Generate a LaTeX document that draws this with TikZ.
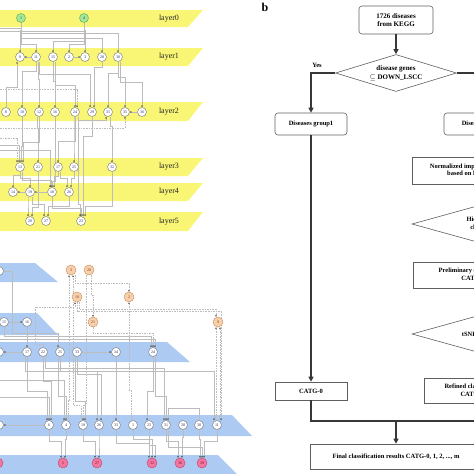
\documentclass[tikz,border=0pt]{standalone}
\usepackage{fontspec}
\setmainfont{Liberation Serif}
\usetikzlibrary{arrows.meta,shapes.geometric}
\pgfdeclarelayer{front}
\pgfsetlayers{main,front}
\definecolor{ylwband}{RGB}{249,246,118}
\definecolor{bluband}{RGB}{172,202,242}
\definecolor{edgegray}{RGB}{188,188,188}
\definecolor{tipgray}{RGB}{70,70,70}
\definecolor{ndgray}{RGB}{125,125,125}
\definecolor{ndtext}{RGB}{40,40,110}
\definecolor{flowgray}{RGB}{55,55,55}
\definecolor{boxgray}{RGB}{95,95,95}
\tikzset{
  nd/.style={circle, draw=ndgray, line width=0.45pt, fill=white, minimum size=9pt,
    inner sep=0pt, text=ndtext, font=\fontsize{4}{4}\selectfont},
  gnd/.style={nd, fill={rgb,255:red,165;green,232;blue,150}, draw={rgb,255:red,90;green,170;blue,90}},
  ond/.style={nd, minimum size=10pt, fill={rgb,255:red,246;green,208;blue,172},
    draw={rgb,255:red,205;green,145;blue,95}, text={rgb,255:red,120;green,60;blue,20}},
  pnd/.style={nd, minimum size=10pt, fill={rgb,255:red,240;green,120;blue,160},
    draw={rgb,255:red,200;green,70;blue,110}, text={rgb,255:red,140;green,0;blue,40}},
  laylab/.style={font=\fontsize{8}{8}\selectfont, text=black!85},
  wire/.style={draw=edgegray, line width=0.5pt},
  edge/.style={wire, -{Stealth[length=1.9pt,width=1.8pt,color=tipgray]}},
  dedge/.style={edge, dash pattern=on 1.6pt off 1pt},
  fbox/.style={draw=boxgray, line width=0.6pt, align=center, inner sep=1pt,
    font=\fontsize{6.5}{7.8}\selectfont\bfseries},
  rbox/.style={fbox, rounded corners=3pt},
  dec/.style={fbox, diamond, aspect=3, inner sep=0pt},
  fline/.style={draw=flowgray, line width=1.1pt},
  farrow/.style={fline, -{Triangle[length=5pt,width=5pt]}},
}
\begin{document}
\begin{tikzpicture}[x=1pt,y=-1pt]
\useasboundingbox (0,0) rectangle (474,474);
\clip (0,0) rectangle (474,474);

% yellow layers of the upper graph
\foreach \yt/\yb/\lab in {10/27/0,48/66/1,102/121/2,158/176/3,183/201/4,212/231/5}{
  \fill[ylwband] (-5,\yt) -- (203,\yt) -- (188,\yb) -- (-5,\yb) -- cycle;
  \node[laylab] (lay\lab) at (169,{(\yt+\yb)/2}) {layer\lab};
}
% blue layers of the lower graph
\foreach \yt/\yb/\xt/\xb in {263/282/35/58,313/335/37/58,342/362/167/190,415/436/232/252,455/478/218/241}
  \fill[bluband] (-5,\yt) -- (\xt,\yt) -- (\xb,\yb) -- (-5,\yb) -- cycle;

\begin{pgfonlayer}{front}
  \node[gnd] (l0n1) at (21,18) {1};
  \node[gnd] (l0n4) at (84,18) {4};
  \foreach \n/\x in {9/20,11/36,15/53,2/69,3/85,28/102,30/118}
    \node[nd] (l1n\n) at (\x,57) {\n};
  \foreach \n/\x in {8/6,10/22,12/39,16/55,24/75,29/92,31/108,35/125,36/142}
    \node[nd] (l2n\n) at (\x,112) {\n};
  \foreach \n/\x in {13/20,21/38,17/58,25/74,32/112}
    \node[nd] (l3n\n) at (\x,167) {\n};
  \foreach \n/\x in {14/13,19/30,18/52,26/69}
    \node[nd] (l4n\n) at (\x,192) {\n};
  \foreach \n/\x in {20/30,27/46,23/81}
    \node[nd] (l5n\n) at (\x,221) {\n};
  % lower graph
  \node[nd] (b1c) at (-1,271) {};
  \node[nd] (b2n15) at (4,322) {15};
  \node[nd] (b2n16) at (27,322) {16};
  \node[nd] (b3c) at (-1,352) {};
  \foreach \n/\x in {17/27,22/43,25/60,33/77,34/116,24/153}
    \node[nd] (b3n\n) at (\x,352) {\n};
  \node[nd] (b4c) at (-1,425) {};
  \foreach \n/\x in {6/49,4/66,19/83,26/99,33/116,1/133,23/149,31/166,28/183,30/199,11/217}
    \node[nd] (b4n\n) at (\x,425) {\n};
  \node[pnd] (b5c) at (-2,463) {};
  \foreach \n/\x in {5/63,27/97,32/152,36/180,29/202}
    \node[pnd] (b5n\n) at (\x,463) {\n};
  \node[ond] (o3) at (71,270) {3};
  \node[ond] (o20) at (89,270) {20};
  \node[ond] (o10) at (77,297) {10};
  \node[ond] (o2) at (129,297) {2};
  \node[ond] (o21) at (93,322) {21};
  \node[ond] (o9) at (218,322) {9};
\end{pgfonlayer}

% loose ends at the left border
\coordinate (offa) at (-5,28);
\coordinate (offb) at (-5,31);
\coordinate (offc) at (-5,89);
\coordinate (offd) at (-5,128);
\coordinate (offe) at (-5,138);
\coordinate (offf) at (-5,145);
\coordinate (offg) at (-5,150);
\coordinate (offi) at (-5,380);
\coordinate (offj) at (-5,397);

% upper graph, layer0 -> layer1
\draw[edge] (l0n1.south) -- ++(0,8) -| (l1n9.north);
\draw[edge] (l0n1.south) -- ++(0,22) -| (l1n11.north);
\draw[edge] (l0n1.south) -- ++(0,11) -| (l1n30.north);
\draw[edge] (l0n1.south) -- ++(0,16) -| (l1n28.north);
\draw[edge] (l0n4.south) -- ++(0,19) -| (l1n15.north);
\draw[edge] (l0n4.south) -- ++(0,21.5) -| (l1n2.north);
\draw[edge] (l0n4.south) -- ++(0,8) -| (l1n3.north);
\draw[wire] (l0n1.south) |- (offa);
\draw[wire] (l0n4.south) |- (offb);
\draw[edge] (l1n11) -- (l1n9);
\draw[edge] (l1n2) -- (l1n3);
% layer1 -> layer2
\draw[edge] (l2n8.north) -- ++(0,-20) -| ([xshift=-3pt]l1n9.south);
\draw[edge] (l1n11.south) -- ++(0,10) -| (l2n10.north);
\draw[edge] ([xshift=2pt]l1n11.south) -- ++(0,18) -| (l2n12.north);
\draw[edge] ([xshift=3pt]l1n11.south) -- ++(0,13) -| ([xshift=-2pt]l2n29.north);
\draw[edge] (l1n15.south) -- ++(0,20) -| (l2n16.north);
\draw[edge] ([xshift=2pt]l1n15.south) -- ++(0,24) -| (l2n24.north);
\draw[edge] (l1n28.south) -- ++(0,6) -| ([xshift=2pt]l2n29.north);
\draw[edge] (l1n30.south) -- ++(0,12) -| (l2n31.north);
\draw[edge] (l1n30.south) -- ++(0,16) -| (l2n35.north);
\draw[edge] ([xshift=2pt]l1n30.south) -- ++(0,21) -| (l2n36.north);
\draw[edge] (l2n36) -- (l2n35);
\draw[dedge] (offc) -| ([xshift=2pt]l2n24.north);
\draw[dedge] (offd) -| (l2n35.south);
% layer2 -> layer3
\draw[dedge] (offe) -| ([xshift=-3pt]l3n13.north);
\draw[edge] (offf) -| ([xshift=-1pt]l3n13.north);
\draw[edge] (offg) -| ([xshift=-2pt]l4n18.north);
\draw[edge] (l2n10.south) -- ++(0,30) -| ([xshift=1pt]l3n13.north);
\draw[edge] (l2n12.south) -- ++(0,26) -| ([xshift=3pt]l3n13.north);
\draw[edge] ([xshift=-2pt]l2n12.south) -- ++(0,12) -| (l3n21.north);
\draw[edge] (l2n16.south) -- ++(0,65) -| (l4n18.north);
\draw[edge] (l2n24.south) -- ++(0,25) -| (l3n17.north);
\draw[edge] ([xshift=-1pt]l2n24.south) -- ++(0,30) -| (l3n25.north);
\draw[edge] ([xshift=3pt]l2n24.south) -- ++(0,4) -| ([xshift=-2pt]l2n31.south);
\draw[edge] ([xshift=3pt]l2n24.south) -- ++(0,88) -| ([xshift=-1pt]l5n23.north);
\draw[edge] (l2n29.south) -- ++(0,20) -| ([xshift=2pt]l5n23.north);
\draw[edge] ([xshift=2pt]l2n31.south) -- ++(0,10) -| (l3n32.north);
% layer3 -> layer4 -> layer5
\draw[edge] (l3n13.south) -- ++(0,4) -| (l4n14.north);
\draw[edge] (l3n13.south) -- ++(0,7) -| (l4n19.north);
\draw[edge] ([xshift=2pt]l3n13.south) -- ++(0,9) -| ([xshift=-1pt]l4n18.north);
\draw[edge] (l3n17.south) -- ++(0,5) -| ([xshift=2pt]l4n18.north);
\draw[edge] ([xshift=2pt]l3n17.south) -- ++(0,7) -| ([xshift=-2pt]l4n26.north);
\draw[edge] (l3n25.south) -- ++(0,7) -| ([xshift=2pt]l4n26.north);
\draw[edge] (l4n19) -- (l4n14);
\draw[edge] (l4n18) -- (l4n19);
\draw[edge] (l3n21.south) -- ++(0,36) -| ([xshift=2pt]l5n20.north);
\draw[edge] ([xshift=-2pt]l4n19.south) -- ++(0,5) -| ([xshift=-2pt]l5n20.north);
\draw[edge] ([xshift=2pt]l4n19.south) -- ++(0,8) -| ([xshift=-2pt]l5n27.north);
\draw[edge] (l4n26.south) -- ++(0,10) -| ([xshift=2pt]l5n27.north);
\draw[edge] (l4n18.south) -- ++(0,12) -| (l5n23.north);
\draw[edge] (l3n32.south) -- ++(0,35) -| ([xshift=4pt]l5n23.north);

% lower graph, solid links
\draw[edge] (b2n15) -- (b2n16);
\draw[edge] (b2n16) -- (b3n17);
\draw[edge] (b3n17) -- (b3c);
\draw[edge] (b3n33) -- (b3n34);
\draw[edge] (b1c.east) -| ++(9,62) -| ([xshift=-2pt]b3n25.north);
\draw[edge] (b2n15.south) -- ++(0,10) -| ([xshift=-2pt]b3n24.north);
\draw[edge] (b1c.south) -- ++(0,64) -| ([xshift=2pt]b3n24.north);
\draw[edge] (b3n17.south) -- ++(0,35) -| ([xshift=-2pt]b4n6.north);
\draw[edge] (b3n22.south) -- ++(0,25) -| ([xshift=2pt]b4n6.north);
\draw[edge] ([xshift=2pt]b3n22.south) -- ++(0,12) -| ([xshift=-2pt]b4n31.north);
\draw[edge] ([xshift=-2pt]b3n17.south) -- ++(0,15) -| ([xshift=-3pt]b4n11.north);
\draw[edge] (b3n25.south) -- ++(0,15) -| ([xshift=-2pt]b4n26.north);
\draw[edge] ([xshift=-2pt]b3n25.south) -- ++(0,40) -| (b4n4.north);
\draw[edge] (b3n33.south) -- ++(0,18) -| ([xshift=2pt]b4n26.north);
\draw[edge] ([xshift=-2pt]b3n33.south) -- ++(0,45) -| ([xshift=2pt]b4n19.north);
\draw[edge] (b3n34) -- (b4n33);
\draw[edge] (b3n24.south) -- ++(0,35) -| ([xshift=-2pt]b4n23.north);
\draw[edge] ([xshift=2pt]b3n24.south) -- ++(0,40) -| (b4n31.north);
\draw[edge] (b4n30.north) -- ++(0,-12) -| ([xshift=2pt]b4n31.north);
\draw[edge] (offi) -| ([xshift=-2pt]b4n4.north);
\draw[edge] (offj) -| (b4n6.north);
\draw[edge] (b4n6) -- (b4c);
\draw[edge] (b4n6.south) -- ++(0,12) -| ([xshift=-2pt]b5n5.north);
\draw[edge] (b4n4.south) -- ++(0,10) -| ([xshift=2pt]b5n5.north);
\draw[edge] (b4n19.south) -- ++(0,12) -| ([xshift=-2pt]b5n27.north);
\draw[edge] (b4n26.south) -- ++(0,10) -| ([xshift=2pt]b5n27.north);
\draw[edge] (b4n33.south) -- ++(0,14) -| ([xshift=-3pt]b5n32.north);
\draw[edge] (b4n1.south) -- ++(0,10) -| (b5n32.north);
\draw[edge] (b4n23.south) -- ++(0,16) -| ([xshift=3pt]b5n32.north);
\draw[edge] (b4n31.south) -- ++(0,12) -| ([xshift=-2pt]b5n36.north);
\draw[edge] (b4n28.south) -- ++(0,8) -| ([xshift=2pt]b5n36.north);
\draw[edge] (b4n30.south) -- ++(0,10) -| ([xshift=-2pt]b5n29.north);
\draw[edge] (b4n11.south) -- ++(0,12) -| ([xshift=2pt]b5n29.north);
\draw[edge] ([xshift=2pt]b4n31.south) -- ++(0,18) -| (b5n29.north);
% lower graph, dashed links of the orange nodes
\draw[dedge] ([xshift=2pt]b4n4.north) -- ++(0,-20) -| ([xshift=-2pt]o3.south);
\draw[dedge] ([xshift=-2pt]b4n19.north) -- ++(0,-15) -| ([xshift=2pt]o3.south);
\draw[dedge] ([xshift=4pt]o3.south) -- ++(0,8.5) -| (o2.north);
\draw[dedge] ([xshift=2pt]o20.south) -- ++(0,20) -| (o21.north);
\draw[dedge] ([xshift=-3pt]o20.south) -- ++(0,130) -| (b4n19.north);
\draw[dedge] (b3n22.north) -- ++(0,-3) -| ++(-8,-37) -| ([xshift=-2pt]o10.south);
\draw[dedge] ([xshift=2pt]o10.south) -- ++(0,7) -| ([xshift=-2pt]o9.north);
\draw[dedge] (o10.south) -- ++(0,9.5) -| ([xshift=4pt]b4n11.north);
\draw[dedge] ([xshift=-2pt]b4n11.north) -- ++(0,-5) -| ([xshift=-2pt]o9.south);
\draw[dedge] ([xshift=2pt]b4n11.north) -- ++(0,-5) -| ([xshift=2pt]o9.south);
\draw[dedge] ([xshift=-2pt]b4n1.north) -- ++(0,-30) -| (o2.south);
\draw[dedge] (o21.south) -- ++(0,6) -| (b3n24.north);

% flowchart b
\node[font=\fontsize{12}{12}\selectfont\bfseries] (blab) at (265,7) {b};
\node[rbox, minimum width=74pt, minimum height=28pt, font=\fontsize{7}{8.5}\selectfont\bfseries] (kegg) at (396,20) {1726 diseases\\from KEGG};
\node[dec, minimum width=121pt, minimum height=37pt, font=\fontsize{7}{8.5}\selectfont\bfseries] (subset) at (396,73) {disease genes\\$\subseteq$ DOWN\_LSCC};
\node[rbox, minimum width=72pt, minimum height=22pt] (grp1) at (311,124) {Diseases group1};
\node[rbox, minimum width=80pt, minimum height=22pt] (grp2) at (484,124) {Diseases group2};
\node[fbox, minimum width=144pt, minimum height=27pt] (norm) at (484,170.5) {Normalized importance scores of genes\\based on layered structure};
\node[dec, minimum width=144pt, minimum height=40pt] (hier) at (484,224) {Hierarchical\\clustering};
\node[fbox, minimum width=142pt, minimum height=26pt] (prelim) at (484,275) {Preliminary classification results\\CATG-1, 2, ..., n};
\node[dec, minimum width=144pt, minimum height=40pt] (tsne) at (484,334) {tSNE validation};
\node[fbox, minimum width=120pt, minimum height=25pt] (refined) at (484,390.5) {Refined classification results\\CATG-1, 2, ..., m};
\node[fbox, minimum width=72pt, minimum height=18pt] (catg0) at (311,391) {CATG-0};
\node[fbox, minimum width=172pt, minimum height=25pt] (final) at (396,456.5) {Final classification results CATG-0, 1, 2, ..., m};
\node[font=\fontsize{6.5}{7}\selectfont\bfseries] (yes) at (317,65) {Yes};
\coordinate (merge) at (396,421);

\draw[farrow] (kegg) -- (subset);
\draw[farrow] (subset.west) -| (grp1.north);
\draw[farrow] (subset.east) -| (grp2.north);
\draw[farrow] (grp1) -- (catg0);
\draw[farrow] (grp2) -- (norm);
\draw[farrow] (norm) -- (hier);
\draw[farrow] (hier) -- (prelim);
\draw[farrow] (prelim) -- (tsne);
\draw[farrow] (tsne) -- (refined);
\draw[fline] (catg0.south) |- (merge) -| (refined.south);
\draw[farrow] (merge) -- (final);
\end{tikzpicture}
\end{document}
